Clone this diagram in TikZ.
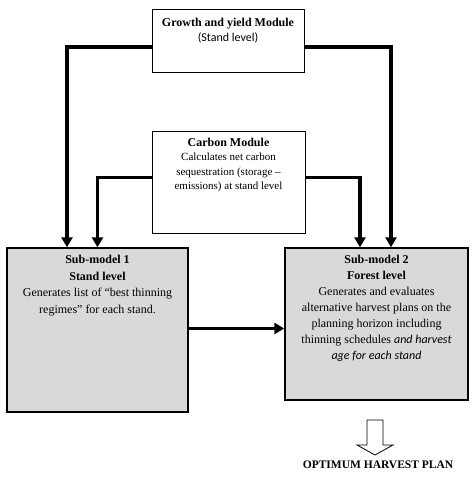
\documentclass[tikz,border=0pt]{standalone}
\usepackage{fontspec}
\setmainfont{Liberation Serif}
\newfontfamily\calibri{Carlito}
\usetikzlibrary{arrows.meta}
\begin{document}
\begin{tikzpicture}[x=1pt,y=-1pt,
    font=\fontsize{12}{15}\selectfont,
    module/.style={draw,line width=0.8pt},
    submodel/.style={draw,line width=1.4pt,fill=gray!30},
    boxtext/.style={anchor=north,align=center,inner sep=0pt},
    flow/.style={line width=3.8pt,-{Triangle[width=11pt,length=10pt]}}]
  \useasboundingbox (0,0) rectangle (474,478);
  % modules
  \node[module,minimum width=152pt,minimum height=63pt] (growth)
    at (228,40.5) {};
  \node[boxtext] (growthtxt) at ([yshift=-9pt]growth.north)
    {\textbf{Growth and yield Module}\\{\calibri (Stand level)}};
  \node[module,minimum width=153pt,minimum height=102pt] (carbon)
    at (228.5,182) {};
  \node[boxtext,font=\fontsize{11}{14.5}\selectfont] (carbontxt)
    at ([yshift=-7pt]carbon.north)
    {{\fontsize{12}{14.5}\selectfont\textbf{Carbon Module}}\\
     Calculates net carbon\\
     sequestration (storage --\\emissions) at stand level};
  % sub-models
  \node[submodel,minimum width=181pt,minimum height=164pt] (sub1)
    at (97.5,330) {};
  \node[boxtext,font=\fontsize{12}{16.5}\selectfont] (sub1txt)
    at ([yshift=-8pt]sub1.north)
    {\textbf{Sub-model 1}\\\textbf{Stand level}\\
     Generates list of “best thinning\\regimes” for each stand.};
  \node[submodel,minimum width=183pt,minimum height=152pt] (sub2)
    at (376.5,324) {};
  \node[boxtext,font=\fontsize{12}{16}\selectfont] (sub2txt)
    at ([yshift=-8pt]sub2.north)
    {\textbf{Sub-model 2}\\\textbf{Forest level}\\
     Generates and evaluates\\alternative harvest plans on the\\
     planning horizon including\\
     thinning schedules {\calibri\itshape and harvest}\\
     {\calibri\itshape age for each stand}};
  % connectors
  \draw[flow] ([yshift=-6.5pt]growth.west) -| ([xshift=-30.5pt]sub1.north);
  \draw[flow] ([yshift=4.5pt]carbon.west) -| (sub1.north);
  \draw[flow] ([yshift=-6.5pt]growth.east) -| ([xshift=14.5pt]sub2.north);
  \draw[flow] ([yshift=4.5pt]carbon.east) -| ([xshift=-16.5pt]sub2.north);
  \draw[flow] ([yshift=1.5pt]sub1.east) -- ([yshift=1.5pt]sub1.east -| sub2.west);
  % result
  \coordinate (plantop) at (375,420);
  \draw[line width=0.8pt] ([xshift=-8pt]plantop) -- ++(0,25) -- ++(-10,0)
    -- (375,455) -- (393,445) -- ++(-10,0) -- ([xshift=8pt]plantop) -- cycle;
  \node[font=\fontsize{11.5}{12}\selectfont\bfseries] (plan) at (378,465)
    {OPTIMUM HARVEST PLAN};
\end{tikzpicture}
\end{document}
